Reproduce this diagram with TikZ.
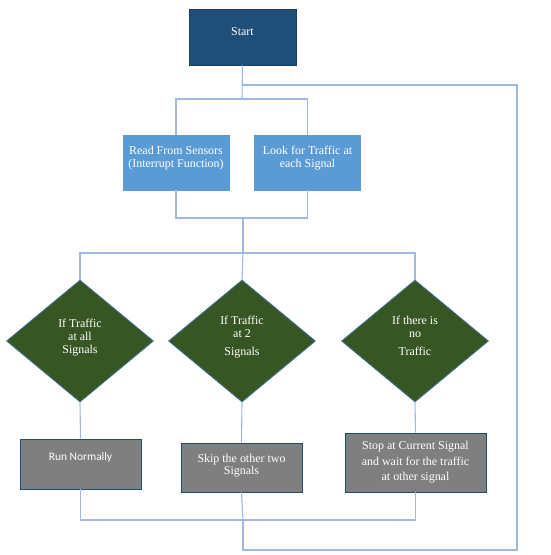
\documentclass[tikz,border=0pt]{standalone}
\usepackage{fontspec}
\setmainfont{Liberation Serif}
\newfontfamily\calfont{Carlito}
\usetikzlibrary{shapes.geometric}

\definecolor{startblue}{HTML}{1F4E79}
\definecolor{stepblue}{HTML}{5B9BD5}
\definecolor{decgreen}{HTML}{375623}
\definecolor{actgray}{HTML}{7F7F7F}
\definecolor{edgeblue}{HTML}{41719C}
\definecolor{wireblue}{HTML}{9DBBE2}

\begin{document}
\begin{tikzpicture}[x=1bp,y=-1bp,
    box/.style={rectangle,draw=edgeblue,line width=0.8bp,text=white,align=center,
                inner sep=2bp,font=\fontsize{12}{12.5}\selectfont},
    startbox/.style={box,fill=startblue,draw=startblue!80!black,minimum width=107bp,minimum height=56bp,text depth=11bp},
    stepbox/.style={box,fill=stepblue,draw=stepblue,minimum width=106bp,minimum height=55bp,text depth=11bp},
    decbox/.style={diamond,draw=edgeblue,line width=0.8bp,fill=decgreen,text=white,align=center,
                inner sep=0pt,minimum width=147bp,minimum height=122bp,text depth=10bp,
                font=\fontsize{12}{13}\selectfont},
    actbox/.style={box,fill=actgray,draw=startblue,minimum width=121bp},
    wire/.style={draw=wireblue,line width=1.1bp}]
  \useasboundingbox (0,0) rectangle (551,555);

  \node[startbox] (start) at (242.5,37) {Start};
  \node[stepbox] (read) at (176,162.5) {Read From Sensors\\(Interrupt Function)};
  \node[stepbox] (look) at (307.5,162.5) {Look for Traffic at\\each Signal};

  \node[decbox] (dall) at (80,341) {If Traffic\\at all\\Signals};
  \node[decbox] (dtwo) at (242,341) {If Traffic\\at 2\\[5bp]Signals};
  \node[decbox] (dnone) at (415,341) {If there is\\no\\[5bp]Traffic};

  \node[actbox,minimum height=50bp,text depth=14bp,font=\calfont\fontsize{11.5}{12}\selectfont] (run) at (80.5,464) {Run Normally};
  \node[actbox,minimum height=49bp,text depth=6bp] (skip) at (241.5,467.5) {Skip the other two\\Signals};
  \node[actbox,minimum width=141bp,minimum height=59bp,font=\fontsize{12}{15.5}\selectfont] (stop) at (415.5,462.5) {Stop at Current Signal\\and wait for the traffic\\at other signal};

  % junctions
  \coordinate (loop) at (242,85);
  \coordinate (split) at (242,99);
  \coordinate (merge) at (243,218);
  \coordinate (fork) at (243,253);
  \coordinate (join) at (243,520);
  \coordinate (rtop) at (517,85);
  \coordinate (rbot) at (517,550);

  \draw[wire] (start.south) -- (split);
  \draw[wire] (read.north) |- (split) -| (look.north);
  \draw[wire] (read.south) |- (merge) -| (look.south);
  \draw[wire] (merge) -- (fork);
  \draw[wire] (dall.north) |- (fork) -| (dnone.north);
  \draw[wire] (fork) -- (dtwo.north);
  \draw[wire] (dall.south) -- (run.north);
  \draw[wire] (dtwo.south) -- (skip.north);
  \draw[wire] (dnone.south) -- (stop.north);
  \draw[wire] (run.south) |- (join) -| (stop.south);
  \draw[wire] (skip.south) -- (join);
  \draw[wire] (loop) -- (rtop) -- (rbot) -| (join);
\end{tikzpicture}
\end{document}
